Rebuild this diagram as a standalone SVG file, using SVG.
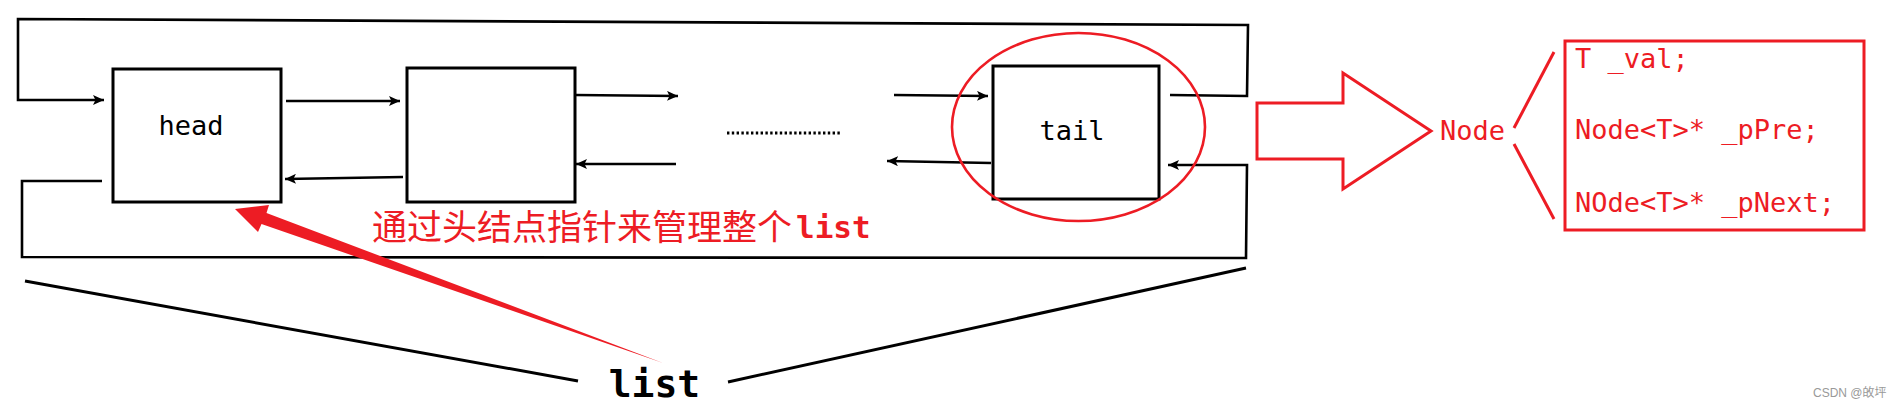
<svg xmlns="http://www.w3.org/2000/svg" width="1896" height="408" viewBox="0 0 1896 408">
  <defs>
    <style>
      .box { fill: #fff; stroke: #000; stroke-width: 3; }
      .ln { fill: none; stroke: #000; stroke-width: 3; }
      .arr { fill: none; stroke: #000; stroke-width: 2.6; marker-end: url(#ah); }
      .mono { font-family: "DejaVu Sans Mono", "Liberation Mono", monospace; }
      .lbl { font-size: 27px; fill: #000; }
      .red { fill: #ED1C24; }
      .rline { fill: none; stroke: #ED1C24; stroke-width: 3; }
    </style>
    <marker id="ah" markerUnits="userSpaceOnUse" markerWidth="12" markerHeight="10" refX="11" refY="5" orient="auto">
      <path d="M0,0 L11,5 L0,10 L2.5,5 z" fill="#000"/>
    </marker>
  </defs>
  <rect width="1896" height="408" fill="#fff"/>

  <g id="connectors">
    <path class="arr" d="M1170,95 L1247,96 L1248,25 L18,19 L18,100 L104,100"/>
    <path class="arr" d="M102,181 L22,181 L22,257 L1246,258 L1247,165 L1168,165"/>
    <path class="arr" d="M286,101 L400,101"/>
    <path class="arr" d="M403,177 L285,179"/>
    <path class="arr" d="M575,95 L678,96"/>
    <path class="arr" d="M676,164 L576,164"/>
    <path class="arr" d="M894,95 L988,96"/>
    <path class="arr" d="M991,163 L887,161"/>
    <line x1="727" y1="133" x2="842" y2="133" stroke="#000" stroke-width="3" stroke-dasharray="2.4 2.4"/>
    <path class="ln" d="M25,281 L578,381"/>
    <path class="ln" d="M728,382 L1246,268"/>
  </g>

  <g id="head">
    <rect class="box" x="113" y="69" width="168" height="133"/>
    <text class="mono lbl" x="191" y="135" text-anchor="middle">head</text>
  </g>

  <g id="node2">
    <rect class="box" x="407" y="68" width="168" height="134"/>
  </g>

  <g id="tail">
    <rect class="box" x="993" y="66" width="166" height="133"/>
    <text class="mono lbl" x="1072" y="140" text-anchor="middle">tail</text>
    <ellipse cx="1078.5" cy="127" rx="126.5" ry="94" fill="none" stroke="#ED1C24" stroke-width="2.6"/>
  </g>

  <g id="list-label">
    <text class="mono" x="654.5" y="397" text-anchor="middle" font-size="38" font-weight="bold" fill="#000">list</text>
  </g>

  <g id="annotation">
    <polygon class="red" points="663,363 266.5,213 269,205 235,209 258,232 261.5,224"/>
    <text x="372" y="240" font-family="'Noto Sans CJK SC', sans-serif" font-size="35" fill="#ED1C24">通过头结点指针来管理整个</text>
    <text class="mono" x="796" y="238" font-size="31" font-weight="bold" fill="#ED1C24">list</text>
  </g>

  <g id="big-arrow">
    <polygon points="1257,103 1343,103 1343,73 1431,131 1343,189 1343,159 1257,159" fill="#fff" stroke="#ED1C24" stroke-width="3"/>
  </g>

  <g id="node-struct">
    <text class="mono red" x="1440" y="140" font-size="27">Node</text>
    <path class="rline" d="M1514,128 L1554,52"/>
    <path class="rline" d="M1514,144 L1554,219"/>
    <rect x="1565" y="41" width="299" height="189" fill="none" stroke="#ED1C24" stroke-width="3"/>
    <text class="mono red" x="1575" y="68" font-size="27">T _val;</text>
    <text class="mono red" x="1575" y="139" font-size="27">Node&lt;T&gt;* _pPre;</text>
    <text class="mono red" x="1575" y="212" font-size="27">NOde&lt;T&gt;* _pNext;</text>
  </g>

  <text x="1813" y="397" font-family="'Liberation Sans', 'Noto Sans CJK SC', sans-serif" font-size="12" fill="#999">CSDN @敀坪</text>
</svg>
